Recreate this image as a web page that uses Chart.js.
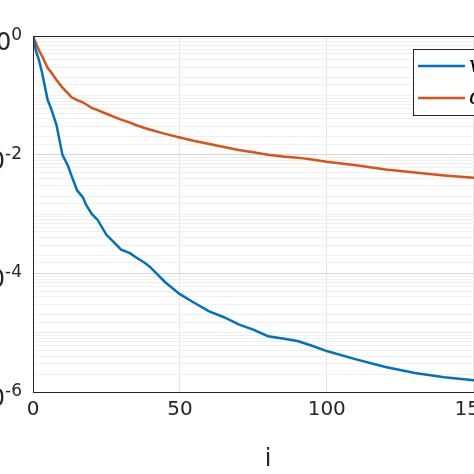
<!DOCTYPE html>
<html>
<head>
<script src="https://cdn.jsdelivr.net/npm/chart.js@4"></script>
<style>
  html, body { margin: 0; padding: 0; background: #fff; overflow: hidden; }
  #wrap { position: relative; width: 474px; height: 474px; overflow: hidden; }
  #holder { position: absolute; left: -70px; top: 0; width: 573px; height: 474px; }
</style>
</head>
<body>
<div id="wrap"><div id="holder"><canvas id="c"></canvas></div></div>
<script>
// iteration index
const iters = [0, 1, 2, 3, 5, 6, 8, 10, 12, 13, 15, 17, 18, 20, 22, 25, 28, 30, 33, 35, 38, 40, 45, 50, 55, 60, 65, 70, 75, 80, 85, 90, 95, 100, 110, 120, 130, 140, 150, 160];
// log10 of each series
const vExp = [0, -0.25, -0.4, -0.6, -1.08, -1.2, -1.5, -2.0, -2.2, -2.34, -2.6, -2.72, -2.84, -3.0, -3.1, -3.35, -3.5, -3.6, -3.66, -3.73, -3.82, -3.9, -4.15, -4.35, -4.5, -4.64, -4.74, -4.86, -4.95, -5.06, -5.1, -5.14, -5.22, -5.31, -5.45, -5.58, -5.68, -5.75, -5.8, -5.85];
const aExp = [0, -0.12, -0.24, -0.33, -0.54, -0.6, -0.74, -0.87, -0.97, -1.03, -1.08, -1.12, -1.15, -1.21, -1.25, -1.31, -1.37, -1.41, -1.46, -1.5, -1.55, -1.58, -1.65, -1.71, -1.77, -1.82, -1.87, -1.92, -1.96, -2.0, -2.03, -2.05, -2.08, -2.12, -2.18, -2.25, -2.3, -2.35, -2.39, -2.43];
const seriesNames = ['𝑣ᵢ', 'αᵢ'];
const xTicks = [0, 50, 100, 150];
const yExps = [0, -2, -4, -6];

const toPts = (exps) => iters.map((x, k) => ({ x: x, y: Math.pow(10, exps[k]) }));

// frame, 10^n labels + legend like MATLAB
const frame = {
  id: 'frame',
  afterDraw(chart) {
    const { ctx, chartArea: a } = chart;
    const ys = chart.scales.y;
    ctx.save();
    ctx.strokeStyle = '#262626';
    ctx.lineWidth = 1;
    ctx.strokeRect(a.left + 0.5, a.top + 0.5, a.right - a.left, a.bottom - a.top);
    // y tick labels: base 10 with raised exponent
    ctx.fillStyle = '#262626';
    ctx.textBaseline = 'alphabetic';
    ctx.textAlign = 'right';
    yExps.forEach((e) => {
      const yy = ys.getPixelForValue(Math.pow(10, e));
      const right = a.left - 11;
      ctx.font = '17px "DejaVu Sans"';
      const ex = String(e).replace('-', '−').replace('−', '-');
      ctx.fillText(ex, right, yy + 4);
      const w = ctx.measureText(ex).width;
      ctx.font = '24px "DejaVu Sans"';
      ctx.fillText('10', right - w, yy + 14);
    });
    // legend box
    const lx = 483, ly = 49;
    ctx.textAlign = 'left';
    ctx.fillStyle = '#fff';
    ctx.fillRect(lx, ly, 140, 66);
    ctx.strokeRect(lx + 0.5, ly + 0.5, 140, 66);
    const cols = ['#0072BD', '#D95319'];
    ctx.font = 'italic 22px "DejaVu Serif"';
    ctx.textBaseline = 'middle';
    cols.forEach((c, k) => {
      const yy = ly + 17 + k * 32;
      ctx.strokeStyle = c;
      ctx.lineWidth = 2.5;
      ctx.beginPath(); ctx.moveTo(lx + 5, yy); ctx.lineTo(lx + 52, yy); ctx.stroke();
      ctx.fillStyle = '#000';
      ctx.fillText(seriesNames[k], lx + 56, yy);
    });
    ctx.restore();
  }
};

new Chart(document.getElementById('c'), {
  type: 'line',
  data: {
    datasets: [
      { label: seriesNames[0], data: toPts(vExp), borderColor: '#0072BD', borderWidth: 2.5, pointRadius: 0, tension: 0 },
      { label: seriesNames[1], data: toPts(aExp), borderColor: '#D95319', borderWidth: 2.5, pointRadius: 0, tension: 0 }
    ]
  },
  options: {
    responsive: true,
    maintainAspectRatio: false,
    animation: false,
    layout: { padding: { top: 36, right: 0, left: 0, bottom: 0 } },
    plugins: { legend: { display: false }, tooltip: { enabled: false } },
    scales: {
      x: {
        type: 'linear', min: 0, max: 160,
        afterBuildTicks: (s) => { s.ticks = xTicks.map(v => ({ value: v })); },
        afterFit: (s) => { s.height = 82; },
        ticks: { color: '#262626', font: { size: 20, family: 'DejaVu Sans' }, padding: 6, maxRotation: 0 },
        grid: { color: '#e3e3e3', drawTicks: false },
        border: { display: false },
        title: { display: true, text: 'i', color: '#262626', font: { size: 24, family: 'DejaVu Sans' }, padding: 0 }
      },
      y: {
        type: 'logarithmic', min: 1e-6, max: 1,
        afterFit: (s) => { s.width = 103; },
        ticks: { autoSkip: false, callback: () => '' },
        grid: {
          drawTicks: false,
          color: (c) => {
            const e = Math.log10(c.tick.value);
            const r = Math.round(e);
            if (Math.abs(e - r) < 1e-9 && r % 2 === 0) return '#d6d6d6';
            return '#f0f0f0';
          }
        },
        border: { display: false }
      }
    }
  },
  plugins: [frame]
});
</script>
</body>
</html>
